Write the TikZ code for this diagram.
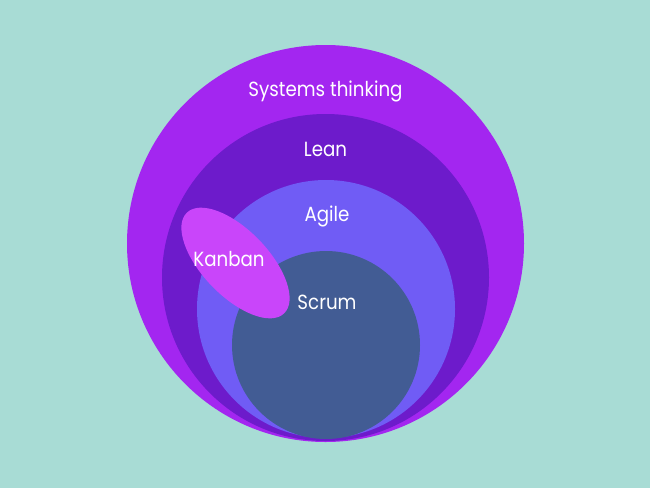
\documentclass[tikz,border=0pt]{standalone}
\usepackage{fontspec}
\setmainfont{Poppins}
\definecolor{bgteal}{HTML}{A8DCD5}
\definecolor{systc}{HTML}{A326F0}
\definecolor{leanc}{HTML}{6D1BCB}
\definecolor{agilec}{HTML}{705CF5}
\definecolor{scrumc}{HTML}{425C94}
\definecolor{kanbanc}{HTML}{C945FA}
\newcommand{\lbltext}[1]{\scalebox{0.89}[1]{#1}}
\begin{document}
\begin{tikzpicture}[x=1pt,y=-1pt,
  lbl/.style={text=white,font=\fontsize{20.5}{22}\selectfont,inner sep=0pt,anchor=base}]
\fill[bgteal] (0,0) rectangle (650,488);
\useasboundingbox (0,0) rectangle (650,488);
\fill[systc] (325.5,243.5) circle[radius=198.5];
\fill[leanc] (325.5,277.5) circle[radius=163.5];
\fill[agilec] (326,309) circle[radius=129];
\fill[scrumc] (326,345) circle[radius=94];
\fill[kanbanc,rotate around={-46:(235.5,263)}] (235.5,263) ellipse[x radius=70,y radius=33];
\node[lbl] (syst) at (325.5,96) {\lbltext{Systems thinking}};
\node[lbl] (lean) at (325.5,156) {\lbltext{Lean}};
\node[lbl] (agile) at (327,221.7) {\lbltext{Agile}};
\node[lbl] (kanban) at (229,266.7) {\lbltext{Kanban}};
\node[lbl] (scrum) at (327,309) {\lbltext{Scrum}};
\end{tikzpicture}
\end{document}
